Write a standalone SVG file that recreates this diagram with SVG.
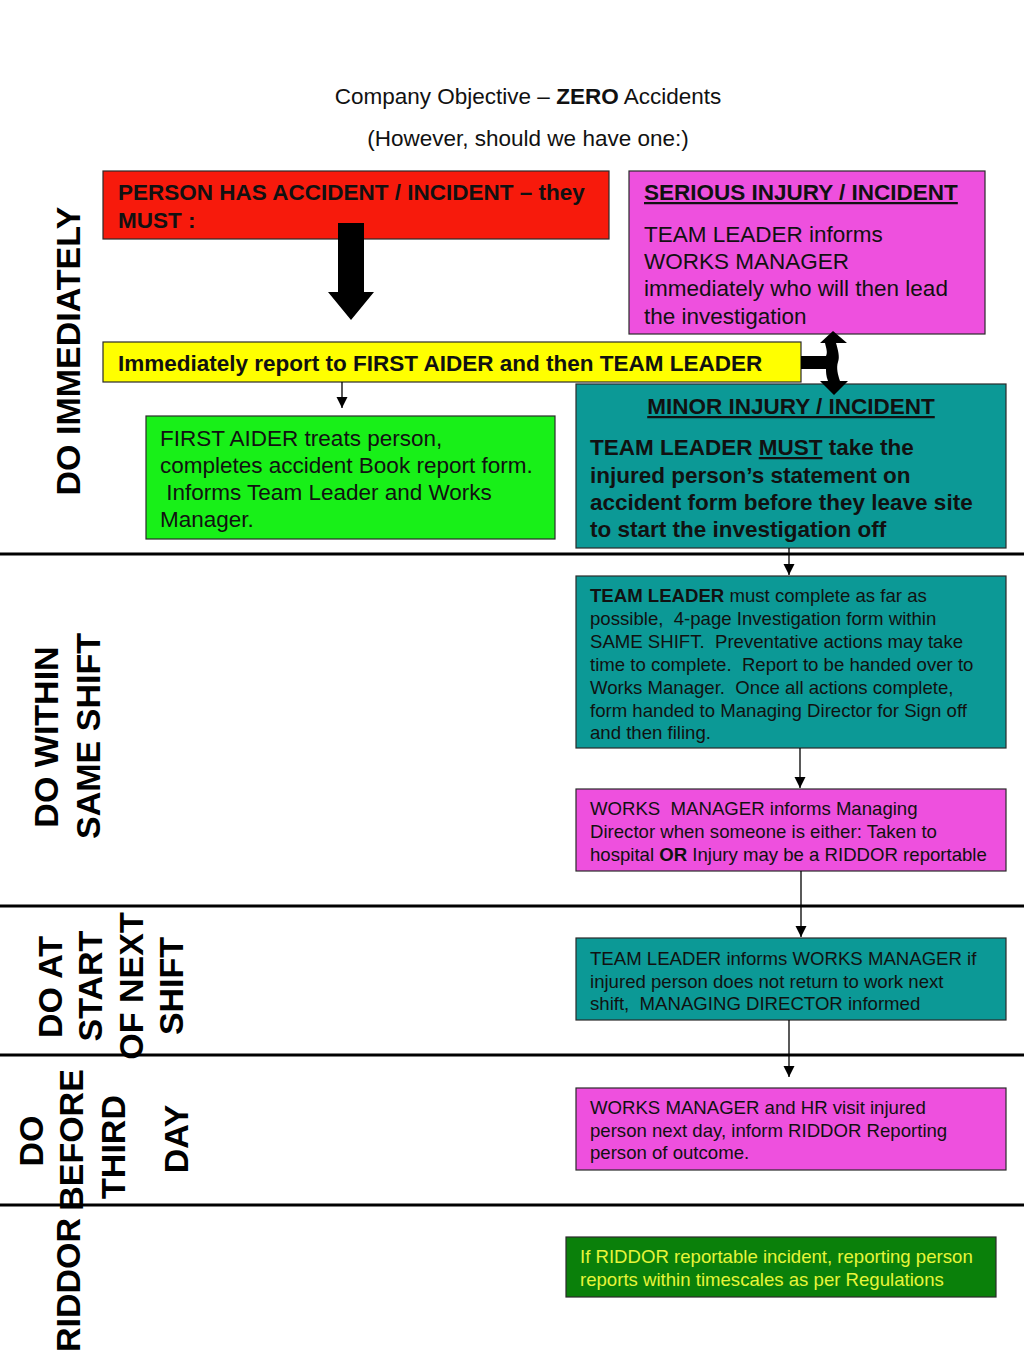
<svg xmlns="http://www.w3.org/2000/svg" width="1024" height="1366" viewBox="0 0 1024 1366">
<style>
text{font-family:"Liberation Sans",Arial,Helvetica,sans-serif;fill:#111;white-space:pre;}
.t{font-size:22.5px;}
.tb{font-size:22.5px;font-weight:bold;}
.s{font-size:18.6px;}
.lab{font-size:34px;font-weight:bold;fill:#000;text-anchor:middle;}
.box{stroke:#2a2a2a;stroke-width:1.2;}
.red{fill:#f71a0c;}
.mag{fill:#ee50de;}
.teal{fill:#0c9996;}
.yel{fill:#ffff00;}
.grn{fill:#18f018;}
.dgrn{fill:#0a800a;}
.sep{stroke:#000;stroke-width:3;}
.con{stroke:#000;stroke-width:1.3;fill:none;marker-end:url(#ah);}
.u{text-decoration:underline;}
</style>
<defs>
<marker id="ah" markerUnits="userSpaceOnUse" markerWidth="12" markerHeight="12" refX="11" refY="5.5" orient="auto">
<path d="M0,0 L11,5.5 L0,11 Z" fill="#000"/>
</marker>
</defs>
<rect width="1024" height="1366" fill="#fff"/>

<g id="title">
<text class="t" x="528" y="104" text-anchor="middle">Company Objective – <tspan font-weight="bold">ZERO</tspan> Accidents</text>
<text class="t" x="528" y="146" text-anchor="middle">(However, should we have one:)</text>
</g>

<g id="lanes">
<line class="sep" x1="0" y1="554" x2="1024" y2="554"/>
<line class="sep" x1="0" y1="906" x2="1024" y2="906"/>
<line class="sep" x1="0" y1="1055" x2="1024" y2="1055"/>
<line class="sep" x1="0" y1="1205" x2="1024" y2="1205"/>
<text class="lab" transform="translate(80,351) rotate(-90)">DO IMMEDIATELY</text>
<text class="lab" transform="translate(58,737) rotate(-90)">DO WITHIN</text>
<text class="lab" transform="translate(100,736) rotate(-90)">SAME SHIFT</text>
<text class="lab" transform="translate(62,987) rotate(-90)">DO AT</text>
<text class="lab" transform="translate(102,986) rotate(-90)">START</text>
<text class="lab" transform="translate(143,986) rotate(-90)">OF NEXT</text>
<text class="lab" transform="translate(183,986) rotate(-90)">SHIFT</text>
<text class="lab" transform="translate(43,1141) rotate(-90)">DO</text>
<text class="lab" transform="translate(83,1140) rotate(-90)">BEFORE</text>
<text class="lab" transform="translate(125,1147) rotate(-90)">THIRD</text>
<text class="lab" transform="translate(188,1139) rotate(-90)">DAY</text>
<text class="lab" transform="translate(80,1285) rotate(-90)">RIDDOR</text>
</g>

<g id="n-accident">
<rect class="box red" x="103" y="171" width="506" height="68"/>
<text class="tb" x="118" y="200">PERSON HAS ACCIDENT / INCIDENT – they</text>
<text class="tb" x="118" y="228">MUST :</text>
</g>

<g id="n-serious">
<rect class="box mag" x="629" y="171" width="356" height="163"/>
<text class="tb u" x="644" y="200">SERIOUS INJURY / INCIDENT</text>
<text class="t" x="644" y="242">TEAM LEADER informs</text>
<text class="t" x="644" y="269">WORKS MANAGER</text>
<text class="t" x="644" y="296">immediately who will then lead</text>
<text class="t" x="644" y="324">the investigation</text>
</g>

<g id="n-report">
<rect class="box yel" x="103" y="342" width="698" height="40"/>
<text class="tb" x="118" y="371">Immediately report to FIRST AIDER and then TEAM LEADER</text>
</g>

<g id="n-firstaider">
<rect class="box grn" x="146" y="416" width="409" height="123"/>
<text class="t" x="160" y="446">FIRST AIDER treats person,</text>
<text class="t" x="160" y="473">completes accident Book report form.</text>
<text class="t" x="160" y="500"> Informs Team Leader and Works</text>
<text class="t" x="160" y="527">Manager.</text>
</g>

<g id="n-minor">
<rect class="box teal" x="576" y="384" width="430" height="164"/>
<text class="tb u" x="791" y="414" text-anchor="middle">MINOR INJURY / INCIDENT</text>
<text class="tb" x="590" y="455">TEAM LEADER <tspan class="u">MUST</tspan> take the</text>
<text class="tb" x="590" y="483">injured person’s statement on</text>
<text class="tb" x="590" y="510">accident form before they leave site</text>
<text class="tb" x="590" y="537">to start the investigation off</text>
</g>

<g id="n-investigation">
<rect class="box teal" x="576" y="576" width="430" height="172"/>
<text class="s" x="590" y="601.5"><tspan font-weight="bold">TEAM LEADER</tspan> must complete as far as</text>
<text class="s" x="590" y="624.5">possible,  4-page Investigation form within</text>
<text class="s" x="590" y="647.5">SAME SHIFT.  Preventative actions may take</text>
<text class="s" x="590" y="670.5">time to complete.  Report to be handed over to</text>
<text class="s" x="590" y="693.5">Works Manager.  Once all actions complete,</text>
<text class="s" x="590" y="716.5">form handed to Managing Director for Sign off</text>
<text class="s" x="590" y="738.5">and then filing.</text>
</g>

<g id="n-wm-informs">
<rect class="box mag" x="576" y="789" width="430" height="82"/>
<text class="s" x="590" y="814.5">WORKS  MANAGER informs Managing</text>
<text class="s" x="590" y="837.5">Director when someone is either: Taken to</text>
<text class="s" x="590" y="860.5">hospital <tspan font-weight="bold">OR</tspan> Injury may be a RIDDOR reportable</text>
</g>

<g id="n-next-shift">
<rect class="box teal" x="576" y="938" width="430" height="82"/>
<text class="s" x="590" y="964.5">TEAM LEADER informs WORKS MANAGER if</text>
<text class="s" x="590" y="987.5">injured person does not return to work next</text>
<text class="s" x="590" y="1009.5">shift,  MANAGING DIRECTOR informed</text>
</g>

<g id="n-visit">
<rect class="box mag" x="576" y="1088" width="430" height="82"/>
<text class="s" x="590" y="1113.5">WORKS MANAGER and HR visit injured</text>
<text class="s" x="590" y="1136.5">person next day, inform RIDDOR Reporting</text>
<text class="s" x="590" y="1158.5">person of outcome.</text>
</g>

<g id="n-riddor">
<rect class="box dgrn" x="566" y="1237" width="430" height="60"/>
<text class="s" x="580" y="1262.5" style="fill:#e6f53a">If RIDDOR reportable incident, reporting person</text>
<text class="s" x="580" y="1285.5" style="fill:#e6f53a">reports within timescales as per Regulations</text>
</g>

<g id="connectors">
<path d="M338,223 L364,223 L364,292 L374,292 L351,320 L328,292 L338,292 Z" fill="#000"/>
<path d="M801,356 L826,356 C828,352 826,348 825,343 L820,343 L833,331 L847,343 L836,343 C838,350 840,357 838,362 C836,368 838,375 840,381 L848,381 L834,395 L820,381 L828,381 C826,376 826,372 826,369 L801,369 Z" fill="#000"/>
<line class="con" x1="342" y1="382" x2="342" y2="408"/>
<line class="con" x1="789" y1="548" x2="789" y2="575"/>
<line class="con" x1="800" y1="748" x2="800" y2="788"/>
<line class="con" x1="801" y1="871" x2="801" y2="937"/>
<line class="con" x1="789" y1="1020" x2="789" y2="1077"/>
</g>
</svg>
